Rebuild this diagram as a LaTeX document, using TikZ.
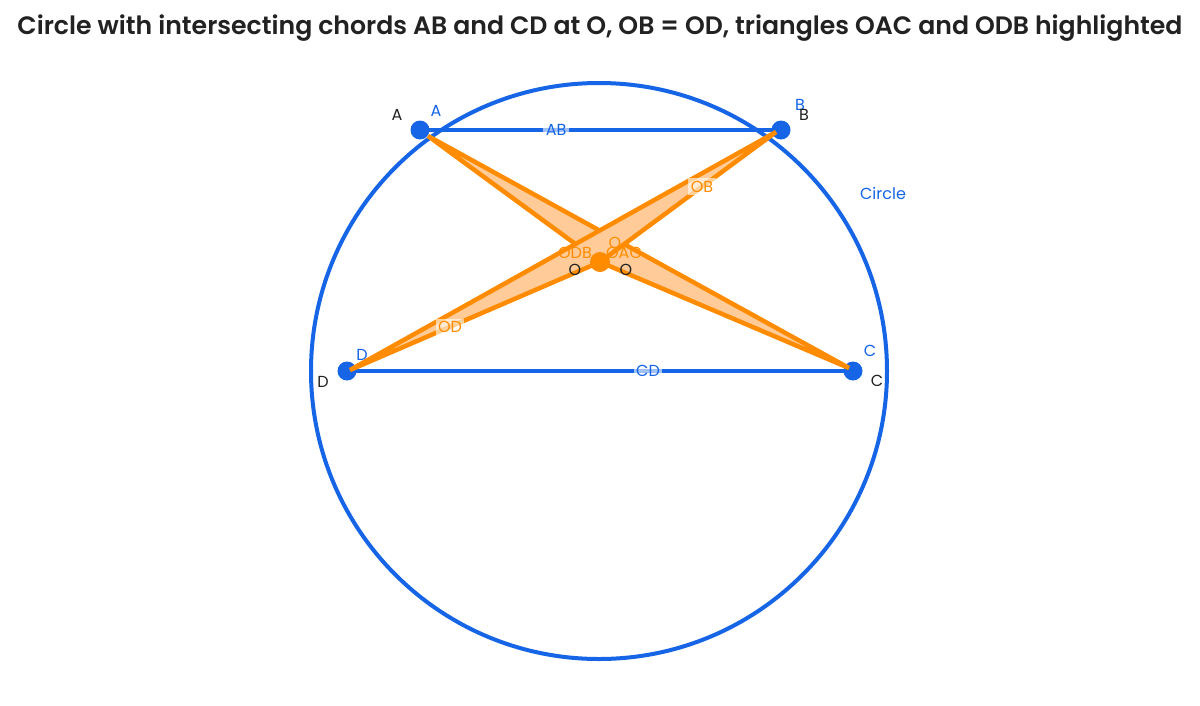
\documentclass[tikz,border=0pt]{standalone}
\usepackage{fontspec}
\IfFontExistsTF{Poppins SemiBold}
  {\setmainfont{Poppins}[BoldFont={Poppins SemiBold}]}
  {\setmainfont{Poppins}}
\definecolor{cblue}{HTML}{1565E6}
\definecolor{corange}{HTML}{FF8C00}
\definecolor{cfill}{HTML}{FFCC99}
\definecolor{cdark}{HTML}{222222}
\tikzset{
  ptdot/.style={circle, fill=cblue, inner sep=0pt, minimum size=19pt},
  odot/.style={circle, fill=corange, inner sep=0pt, minimum size=20pt},
  chord/.style={draw=cblue, line width=4pt},
  circ/.style={draw=cblue, line width=4pt},
  tri/.style={draw=corange, fill=cfill, line width=4.5pt, line join=miter},
  lbl/.style={font=\fontsize{16}{18}\selectfont, inner sep=1pt},
  bluelbl/.style={lbl, text=cblue},
  blacklbl/.style={lbl, text=cdark},
  orangelbl/.style={lbl, text=corange},
  seglbl/.style={lbl, fill=white, fill opacity=0.6, text opacity=1, inner sep=2.5pt},
}
\begin{document}
\begin{tikzpicture}[x=1pt, y=-1pt]
\useasboundingbox (0,0) rectangle (1200,705);
\fill[white] (0,0) rectangle (1200,705);
% title
\node[inner sep=0pt, text=cdark] (title) at (600,28)
  {\resizebox{1165pt}{!}{\fontsize{25}{29}\selectfont\bfseries Circle with intersecting chords AB and CD at O, OB = OD, triangles OAC and ODB highlighted}};
% circle
\node[circle, circ, inner sep=0pt, minimum size=576pt] (circle) at (599,371) {};
\node[bluelbl] (circlelbl) at (883,193) {Circle};
% points
\node[ptdot] (A) at (420,130) {};
\node[ptdot] (B) at (781,130) {};
\node[ptdot] (C) at (853,371) {};
\node[ptdot] (D) at (347,371) {};
% chords
\draw[chord] (A.center) -- (B.center) node[seglbl, text=cblue, pos=0.377] (ABl) {AB};
\draw[chord] (D.center) -- (C.center) node[seglbl, text=cblue, pos=0.595] (CDl) {CD};
% triangle vertices
\coordinate (Ap) at (428,136);
\coordinate (Bp) at (776,132);
\coordinate (Cp) at (849,368);
\coordinate (Dp) at (350,370);
\coordinate (Ov) at (600,262);
% triangles
\draw[tri] (Ov) -- (Ap) -- (Cp) -- cycle;
\draw[tri] (Ov) -- (Dp) -- (Bp) -- cycle;
\path (Ov) -- (Bp) node[seglbl, text=corange, pos=0.58] (OBl) {OB};
\path (Ov) -- (Dp) node[seglbl, text=corange, pos=0.60] (ODl) {OD};
% O point
\node[odot] (O) at (Ov) {};
% labels
\node[bluelbl] (Al) at (436,111) {A};
\node[blacklbl] (Alb) at (397,115) {A};
\node[bluelbl] (Bl) at (800,105) {B};
\node[blacklbl] (Blb) at (804,115) {B};
\node[bluelbl] (Cl) at (870,351) {C};
\node[blacklbl] (Clb) at (877,381) {C};
\node[bluelbl] (Dl) at (362,355) {D};
\node[blacklbl] (Dlb) at (323,382) {D};
\node[orangelbl] (ODBl) at (575,253) {ODB};
\node[orangelbl] (OACl) at (624,253) {OAC};
\node[orangelbl] (Ol) at (615,243) {O};
\node[blacklbl] (Olb1) at (575,270) {O};
\node[blacklbl] (Olb2) at (626,270) {O};
\end{tikzpicture}
\end{document}
